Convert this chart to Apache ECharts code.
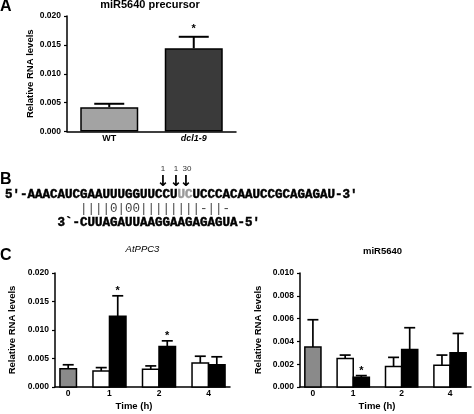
<!DOCTYPE html>
<html>
<head>
<meta charset="utf-8">
<script src="https://cdn.jsdelivr.net/npm/echarts@6/dist/echarts.min.js"></script>
<style>
html, body { margin: 0; padding: 0; background: #fff; }
#main { width: 474px; height: 414px; }
</style>
</head>
<body>
<div id="main"></div>
<script>
// panel A : miR5640 precursor
var precursorCats = ['WT', 'dcl1-9'];
var precursorVals = [0.0042, 0.0144];
var precursorErr = [0.0006, 0.0020];
var precursorSig = [0, 1];
var precursorTicks = [0, 0.005, 0.010, 0.015, 0.020];

// panel C : time course
var timeLabels = ['0', '1', '2', '4'];

// AtPPC3
var ppc3Gray = 0.0032, ppc3GrayErr = 0.0007;
var ppc3White = [0.0028, 0.0031, 0.0042];
var ppc3WhiteErr = [0.0006, 0.0006, 0.0012];
var ppc3Black = [0.0124, 0.0071, 0.0039];
var ppc3BlackErr = [0.0036, 0.0010, 0.0014];
var ppc3BlackSig = [1, 1, 0];
var ppc3Ticks = [0, 0.005, 0.010, 0.015, 0.020];

// miR5640
var mirGray = 0.0035, mirGrayErr = 0.0024;
var mirWhite = [0.0025, 0.0018, 0.0019];
var mirWhiteErr = [0.0003, 0.0008, 0.0009];
var mirBlack = [0.00085, 0.0033, 0.0030];
var mirBlackErr = [0.00015, 0.0019, 0.0017];
var mirBlackSig = [1, 0, 0];
var mirTicks = [0, 0.002, 0.004, 0.006, 0.008, 0.010];

var FONT = 'Liberation Sans, Arial, sans-serif';
var MONO = 'Liberation Mono, Courier New, monospace';
var FILLS = ['#8a8a8a', '#ffffff', '#000000'];

// slot layout: gray bar in slot 0, then (white, black) pairs with one empty slot between groups
function buildTimeItems(gray, grayErr, white, whiteErr, black, blackErr, blackSig) {
    var items = [[0, gray, grayErr, 0, 0]];
    for (var i = 0; i < white.length; i++) {
        items.push([3 * (i + 1) - 1, white[i], whiteErr[i], 0, 1]);
        items.push([3 * (i + 1), black[i], blackErr[i], blackSig[i], 2]);
    }
    return items;
}

function labelPos() {
    var m = {};
    for (var i = 0; i < timeLabels.length; i++) {
        m[i == 0 ? 0.5 : 3 * i] = timeLabels[i];
    }
    return m;
}
var LABEL_AT = labelPos();

function star(x, y) {
    return {type: 'text', x: x, y: y,
        style: {text: '*', align: 'center', verticalAlign: 'middle', font: 'bold 11px ' + FONT, fill: '#000'}};
}

function renderTimeBar(params, api) {
    var slot = api.value(0), v = api.value(1), e = api.value(2);
    var sig = api.value(3), kind = api.value(4);
    var base = api.coord([slot, 0]);
    var top = api.coord([slot + 1, v]);
    var errTop = api.coord([slot + 0.5, v + e]);
    var cx = errTop[0];
    var children = [
        {type: 'line', shape: {x1: cx, y1: top[1], x2: cx, y2: errTop[1]}, style: {stroke: '#000', lineWidth: 1.7}},
        {type: 'line', shape: {x1: cx - 5.5, y1: errTop[1], x2: cx + 5.5, y2: errTop[1]}, style: {stroke: '#000', lineWidth: 1.7}},
        {type: 'rect', shape: {x: base[0], y: top[1], width: top[0] - base[0], height: base[1] - top[1]},
            style: {fill: FILLS[kind], stroke: '#000', lineWidth: 1.5}}
    ];
    if (sig) children.push(star(cx, errTop[1] - 5));
    return {type: 'group', children: children};
}

function renderErr(params, api) {
    var v = api.value(1), e = api.value(2), sig = api.value(3);
    var top = api.coord([api.value(0), v]);
    var errTop = api.coord([api.value(0), v + e]);
    var cx = top[0];
    var children = [
        {type: 'line', shape: {x1: cx, y1: top[1], x2: cx, y2: errTop[1]}, style: {stroke: '#000', lineWidth: 2}},
        {type: 'line', shape: {x1: cx - 15, y1: errTop[1], x2: cx + 15, y2: errTop[1]}, style: {stroke: '#000', lineWidth: 2}}
    ];
    if (sig) children.push(star(cx, errTop[1] - 8));
    return {type: 'group', children: children};
}

function yAxisOf(gridIndex, ticks, nameGap) {
    return {
        type: 'value', gridIndex: gridIndex,
        min: ticks[0], max: ticks[ticks.length - 1], interval: ticks[1] - ticks[0],
        name: 'Relative RNA levels', nameLocation: 'middle', nameGap: nameGap,
        nameTextStyle: {fontFamily: FONT, fontWeight: 'bold', fontSize: 9.5, color: '#000'},
        axisLine: {show: true, onZero: false, lineStyle: {color: '#000', width: 1.5}},
        axisTick: {show: true, length: 3, lineStyle: {color: '#000', width: 1.2}},
        axisLabel: {fontFamily: FONT, fontWeight: 'bold', fontSize: 8.5, color: '#000', margin: 6,
            formatter: function (v) { return v.toFixed(3); }},
        splitLine: {show: false}
    };
}

function timeXAxis(gridIndex) {
    return {
        type: 'value', gridIndex: gridIndex, min: -0.3, max: 10.3, interval: 0.1,
        name: 'Time (h)', nameLocation: 'middle', nameGap: 14,
        nameTextStyle: {fontFamily: FONT, fontWeight: 'bold', fontSize: 9.5, color: '#000', padding: [0, 17, 0, 0]},
        axisLine: {show: true, onZero: false, lineStyle: {color: '#000', width: 1.5}},
        axisTick: {show: false},
        splitLine: {show: false},
        axisLabel: {fontFamily: FONT, fontWeight: 'bold', fontSize: 8.5, color: '#000', margin: 2,
            formatter: function (v) {
                var k = Math.round(v * 10) / 10;
                return LABEL_AT[k] !== undefined ? LABEL_AT[k] : '';
            }}
    };
}

function txt(x, y, text, font, extra) {
    var style = {text: text, font: font, fill: '#000', align: 'left', verticalAlign: 'middle'};
    for (var k in extra) style[k] = extra[k];
    return {type: 'text', x: x, y: y, style: style};
}

var precursorData = precursorVals.map(function (v, i) {
    return {value: v, itemStyle: {color: i == 0 ? '#a3a3a3' : '#3a3a3a'}};
});
var precursorErrData = precursorVals.map(function (v, i) {
    return [i, v, precursorErr[i], precursorSig[i]];
});

// heavy slab look for the sequences
var SEQ = 'bold 12.5px ' + MONO;
var seqB = {font: SEQ, fill: '#000', stroke: '#000', lineWidth: 0.5};
var seqG = {font: SEQ, fill: '#9a9a9a', stroke: '#9a9a9a', lineWidth: 0.5};

var graphics = [
    txt(0, 7, 'A', 'bold 16px ' + FONT),
    txt(150, 5, 'miR5640 precursor', 'bold 11px ' + FONT, {align: 'center'}),
    txt(0, 180, 'B', 'bold 16px ' + FONT),
    txt(163, 169, '1', '8px ' + FONT, {align: 'center', fill: '#333'}),
    txt(176, 169, '1', '8px ' + FONT, {align: 'center', fill: '#333'}),
    txt(187, 169, '30', '8px ' + FONT, {align: 'center', fill: '#333'}),
    txt(163, 182, '\u2193', 'bold 15px DejaVu Sans', {align: 'center'}),
    txt(176, 182, '\u2193', 'bold 15px DejaVu Sans', {align: 'center'}),
    txt(186, 182, '\u2193', 'bold 15px DejaVu Sans', {align: 'center'}),
    {type: 'text', x: 5, y: 195, style: {
        text: '{b|5\u2032-AAACAUCGAAUUUGGUUCCU}{g|UC}{b|UCCCACAAUCCGCAGAGAU-3\u2032}',
        verticalAlign: 'middle',
        rich: {b: seqB, g: seqG}
    }},
    txt(80, 209, '||||0|00||||||||-||-', '12.5px ' + MONO, {fill: '#444'}),
    {type: 'text', x: 57.5, y: 223, style: {
        text: '{b|3`-CUUAGAUUAAGGAAGAGAGUA-5\u2032}',
        verticalAlign: 'middle',
        rich: {b: seqB}
    }},
    txt(0, 256, 'C', 'bold 16px ' + FONT),
    txt(142.5, 249.5, 'AtPPC3', 'italic 9.5px ' + FONT, {align: 'center'}),
    txt(382.5, 251.5, 'miR5640', 'bold 9.5px ' + FONT, {align: 'center'})
];

var chart = echarts.init(document.getElementById('main'));
chart.setOption({
    animation: false,
    backgroundColor: '#fff',
    grid: [
        {left: 67, top: 16, width: 169, height: 115.5},
        {left: 55, top: 273, width: 175, height: 114},
        {left: 300, top: 273, width: 175, height: 114}
    ],
    xAxis: [
        {
            type: 'category', gridIndex: 0,
            data: [precursorCats[0], {value: precursorCats[1], textStyle: {fontStyle: 'italic'}}],
            axisLine: {show: true, lineStyle: {color: '#000', width: 1.5}},
            axisTick: {show: false},
            axisLabel: {fontFamily: FONT, fontWeight: 'bold', fontSize: 9, color: '#000', margin: 3}
        },
        timeXAxis(1),
        timeXAxis(2)
    ],
    yAxis: [
        yAxisOf(0, precursorTicks, 29),
        yAxisOf(1, ppc3Ticks, 38),
        yAxisOf(2, mirTicks, 37)
    ],
    series: [
        {
            type: 'custom', xAxisIndex: 0, yAxisIndex: 0, z: 1,
            renderItem: renderErr, data: precursorErrData
        },
        {
            type: 'bar', xAxisIndex: 0, yAxisIndex: 0, z: 2, barWidth: 58,
            itemStyle: {borderColor: '#000', borderWidth: 1.5},
            data: precursorData
        },
        {
            type: 'custom', xAxisIndex: 1, yAxisIndex: 1,
            renderItem: renderTimeBar,
            data: buildTimeItems(ppc3Gray, ppc3GrayErr, ppc3White, ppc3WhiteErr, ppc3Black, ppc3BlackErr, ppc3BlackSig)
        },
        {
            type: 'custom', xAxisIndex: 2, yAxisIndex: 2,
            renderItem: renderTimeBar,
            data: buildTimeItems(mirGray, mirGrayErr, mirWhite, mirWhiteErr, mirBlack, mirBlackErr, mirBlackSig)
        }
    ],
    graphic: graphics
});
</script>
</body>
</html>
